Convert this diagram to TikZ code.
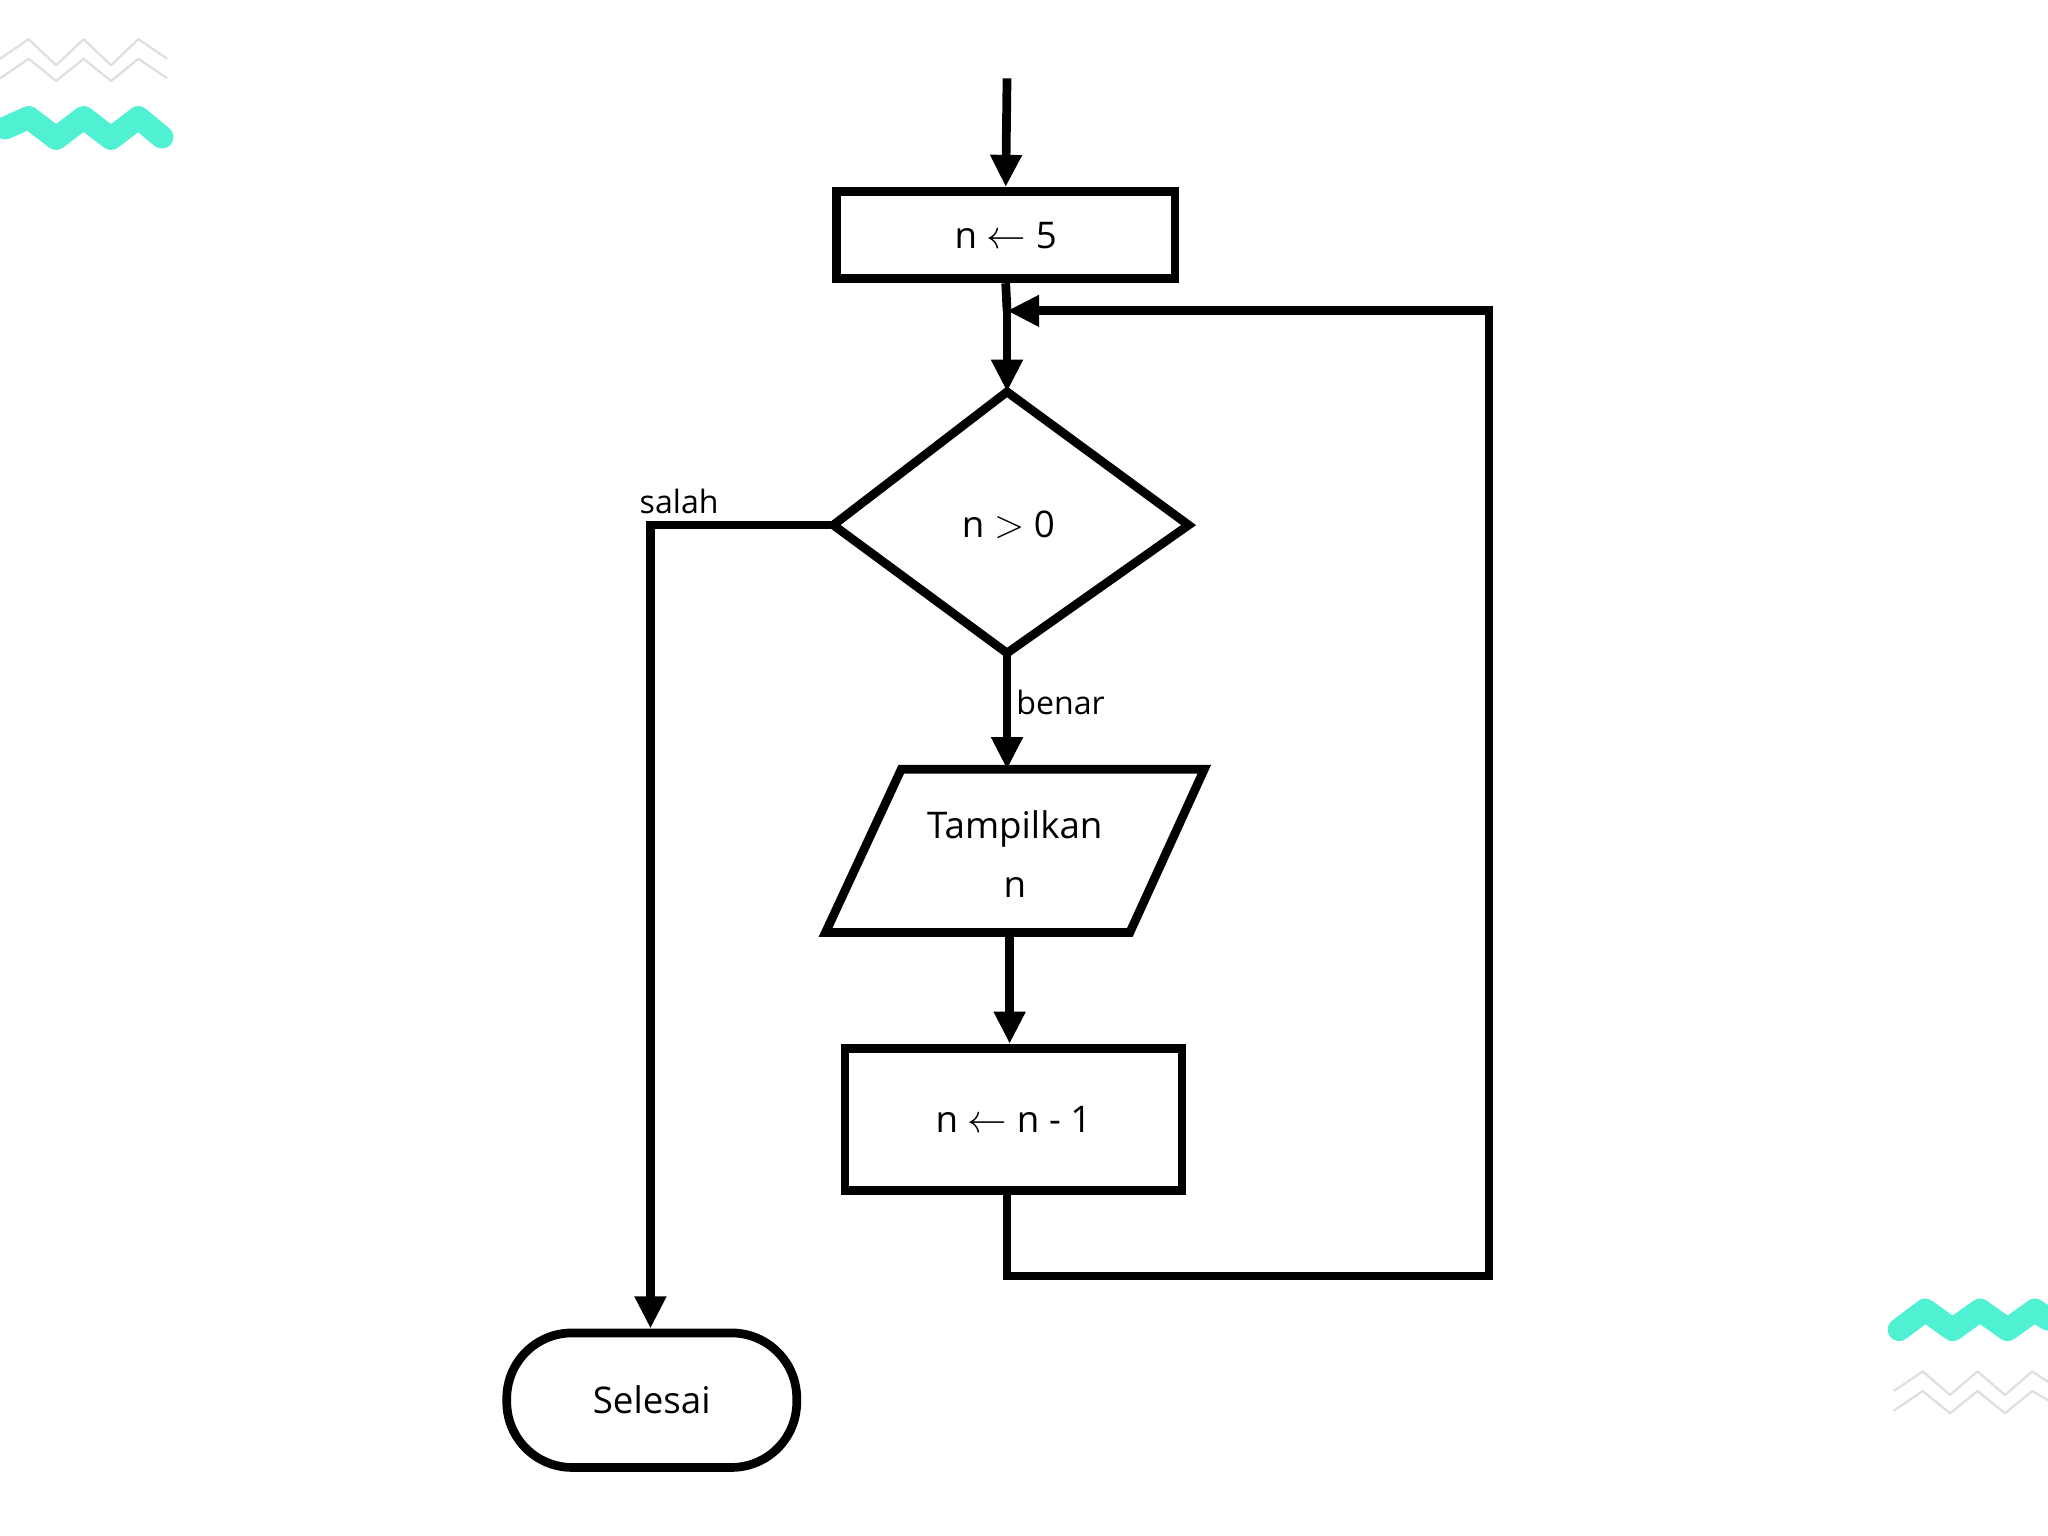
\documentclass[tikz,border=0pt]{standalone}
\usepackage{fontspec}
\setmainfont{Open Sans}
\usetikzlibrary{arrows.meta}
\definecolor{zcyan}{RGB}{80,240,210}
\begin{document}
\begin{tikzpicture}[x=0.02cm,y=-0.02cm,
  box/.style={draw,line width=3.8pt},
  ln/.style={line width=3.8pt},
  ar/.style={ln,-{Triangle[length=14pt,width=13pt]}},
  lbl/.style={font=\fontsize{14}{17}\selectfont},
  txt/.style={font=\fontsize{16}{26}\selectfont,align=center},
  zc/.style={line width=10pt,color=zcyan,line join=round,line cap=round},
  zg/.style={line width=1pt,color=gray!25,line join=round}]
\useasboundingbox (0,0) rectangle (1568,1176);
% decorations
\draw[zg] (0,45)--(22,30)--(43,50)--(64,30)--(85,50)--(106,30)--(128,45);
\draw[zg] (0,60)--(22,45)--(43,62)--(64,45)--(85,62)--(106,45)--(128,60);
\draw[zc] (4,98)--(22,90)--(43,106)--(64,90)--(85,106)--(106,90)--(124,105);
\draw[zc] (1454,1018)--(1474,1003)--(1495,1018)--(1516,1003)--(1537,1018)--(1558,1003)--(1568,1010);
\draw[zg] (1450,1065)--(1472,1050)--(1493,1068)--(1514,1050)--(1535,1068)--(1556,1050)--(1568,1058);
\draw[zg] (1450,1080)--(1472,1065)--(1493,1082)--(1514,1065)--(1535,1082)--(1556,1065)--(1568,1072);
% nodes
\coordinate (start) at (771,60);
\node[box,minimum width=259*0.02cm,minimum height=67*0.02cm,txt] (b1) at (770,180) {n $\leftarrow$ 5};
\coordinate (m) at (771,238);
\draw[ln,line join=miter] (771,300)--(910,402)--(771,500)--(638,402)--cycle;
\node[txt] (d) at (772,402) {n $>$ 0};
\coordinate (dt) at (771,300); \coordinate (dl) at (638,402); \coordinate (db) at (771,500);
\draw[ln] (690,589)--(922,589)--(865,714)--(632,714)--cycle;
\node[txt] (p) at (777,654) {Tampilkan\\n};
\coordinate (pt) at (771,589); \coordinate (pb) at (773,714);
\node[box,minimum width=258*0.02cm,minimum height=109*0.02cm,txt] (b2) at (776,857) {n $\leftarrow$ n - 1};
\node[box,rounded corners=50*0.02cm,minimum width=222*0.02cm,minimum height=103*0.02cm,txt] (end) at (499,1072) {Selesai};
\coordinate (s1) at (498,402);
\coordinate (l1) at (771,977); \coordinate (l2) at (1140,977); \coordinate (l3) at (1140,238);
% connectors
\draw[ar] (start)--(b1.north);
\draw[ln] (b1.south)--(m);
\draw[ar] (m)--(dt);
\draw[ar] (db)--(pt);
\draw[ar] (pb)--(pb|-b2.north);
\draw[ar] (b2.south-|l1)--(l1)--(l2)--(l3)--(m);
\draw[ar] (dl)--(s1)--(s1|-end.north);
\node[lbl] at (520,384) {salah};
\node[lbl] at (812,538) {benar};
\end{tikzpicture}
\end{document}
